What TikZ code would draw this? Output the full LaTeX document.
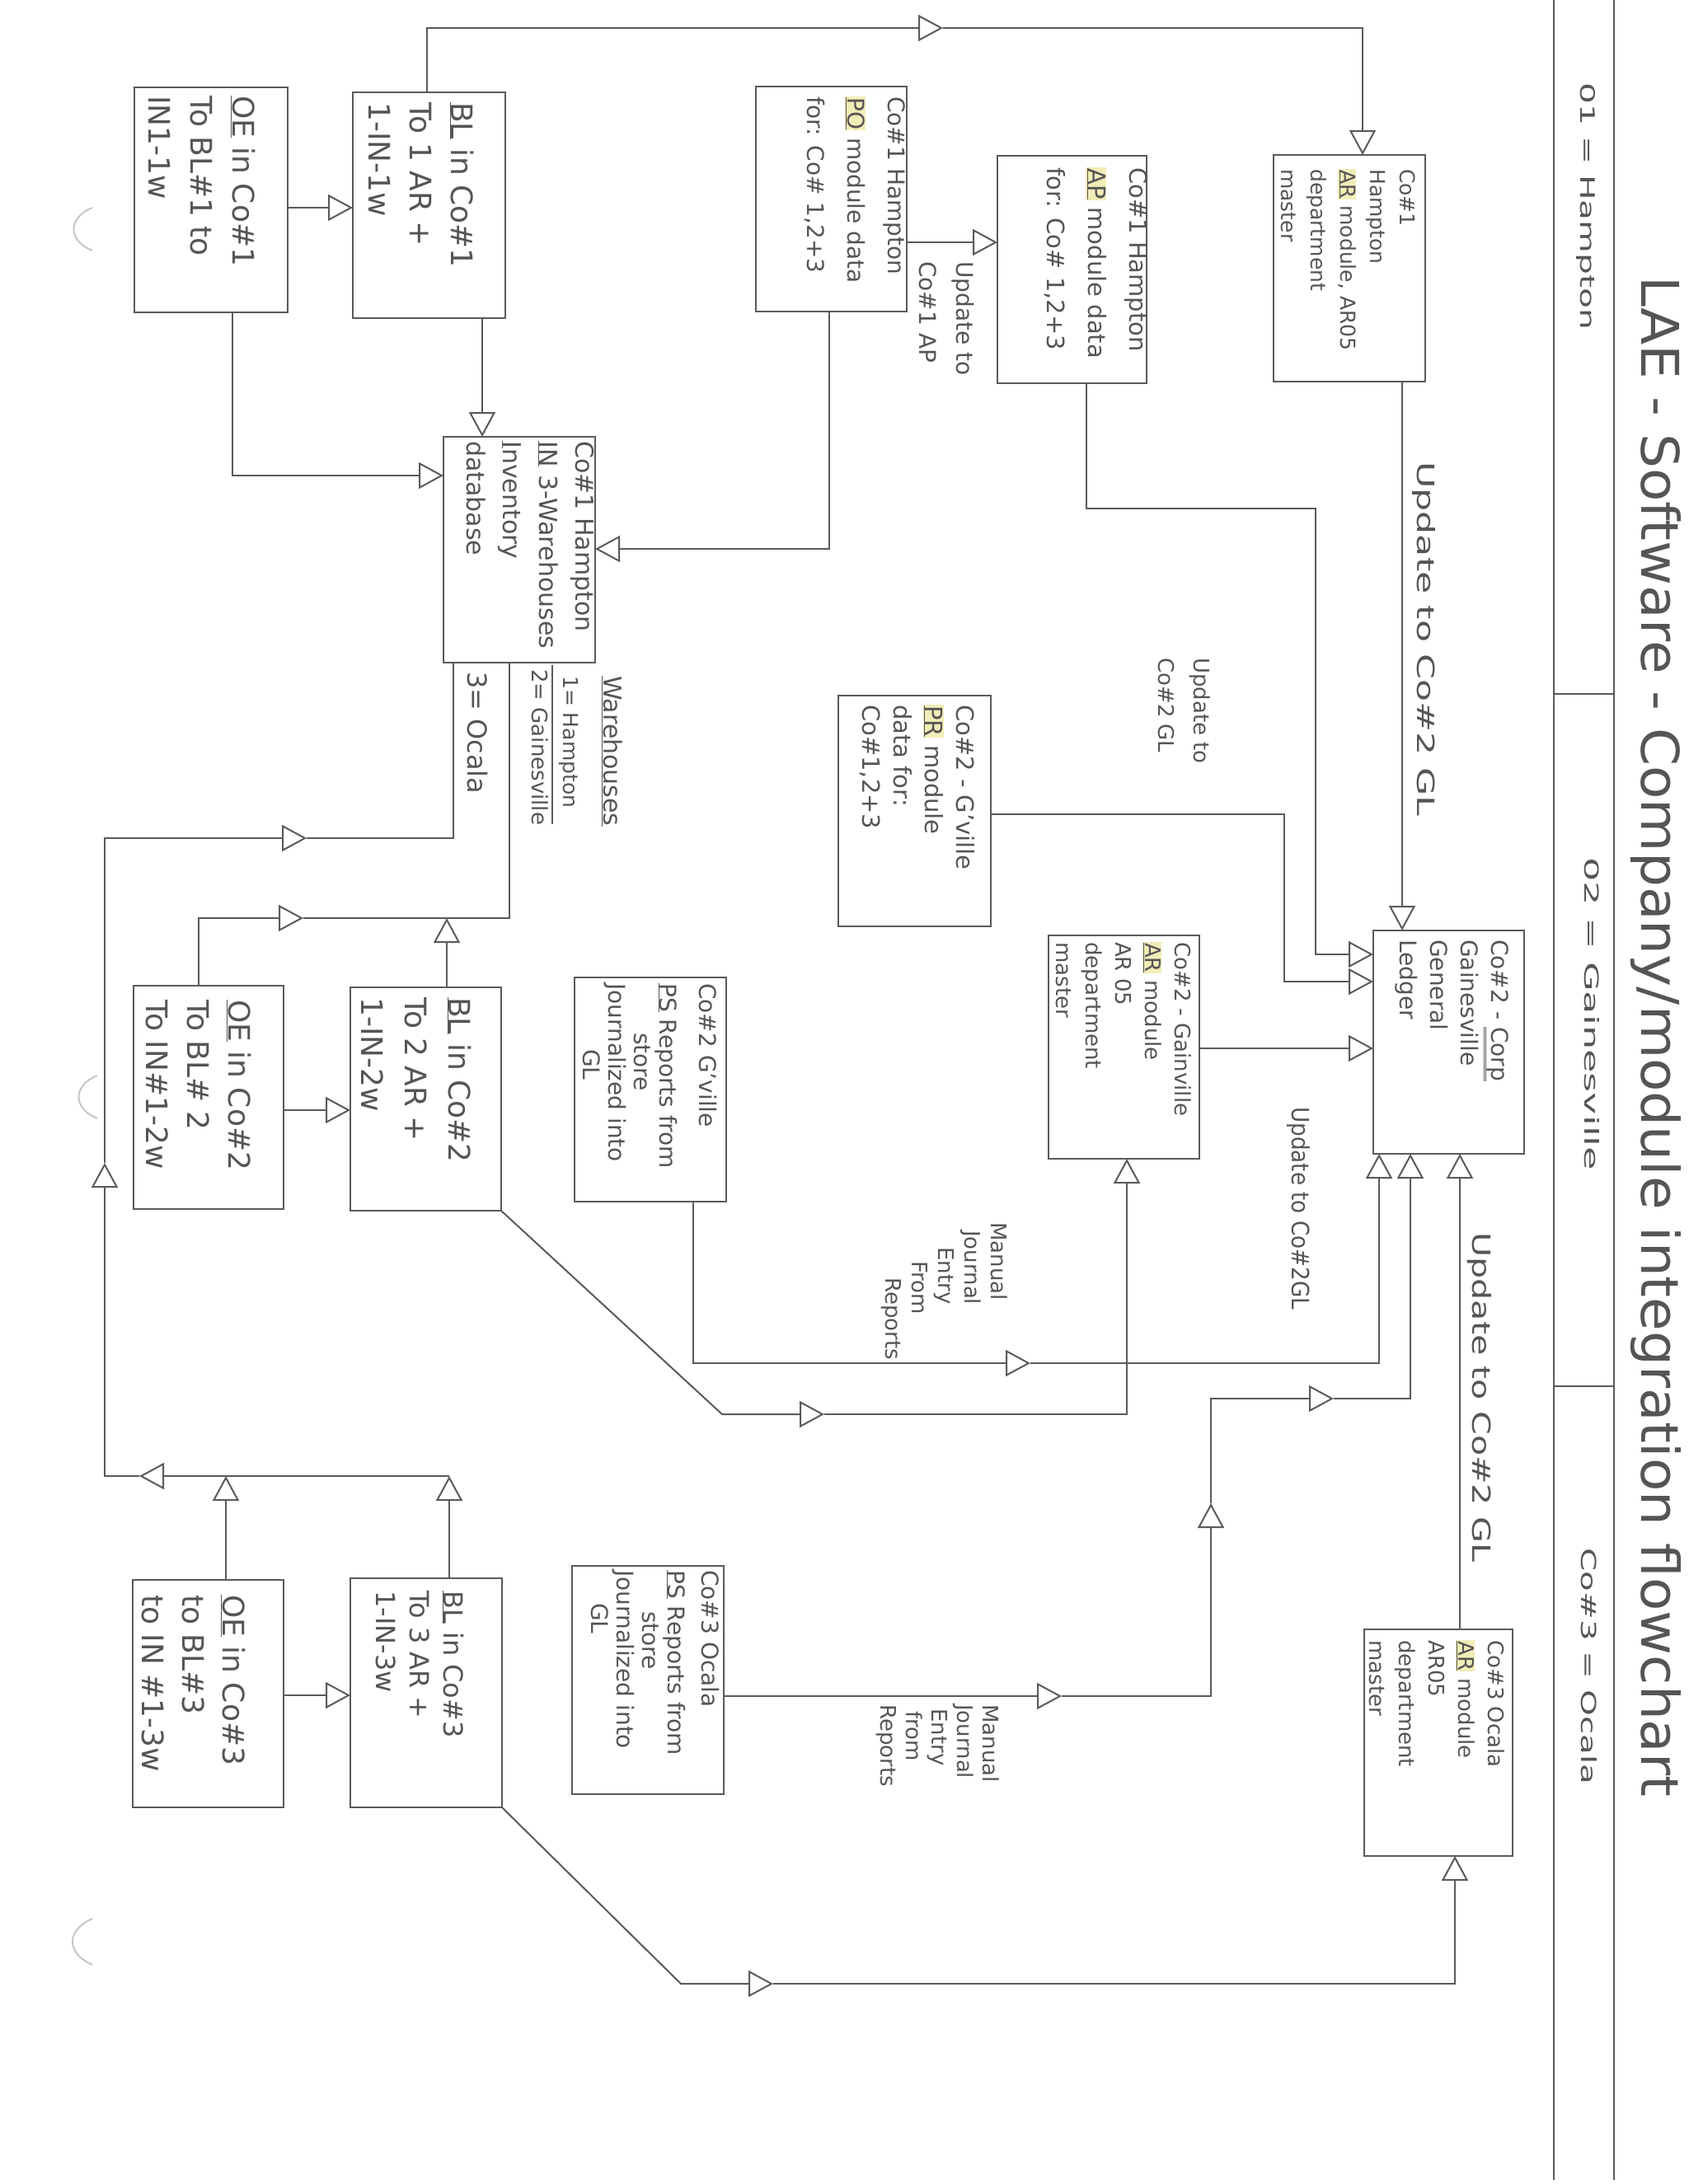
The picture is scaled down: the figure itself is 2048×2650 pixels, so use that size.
\documentclass[tikz,border=0pt]{standalone}
\usepackage{graphicx}
\usepackage{fontspec}
\setmainfont{DejaVu Sans}
\usetikzlibrary{arrows.meta,calc}
\definecolor{ink}{HTML}{5A5A5A}
\definecolor{txtc}{HTML}{555555}
\definecolor{hly}{HTML}{F1EDB8}
\newcommand\hl[1]{{\setlength{\fboxsep}{1pt}\colorbox{hly}{#1}}}
\newcommand\ul[1]{\underline{#1}}
\newcommand\fs[2]{\fontsize{#1}{#2}\selectfont}
\begin{document}
\begin{tikzpicture}[x=1pt,y=-1pt,
  box/.style={draw=ink,line width=2.2pt,inner sep=0pt,outer sep=0pt,rectangle},
  conn/.style={draw=ink,line width=2pt},
  tip/.style={-{Triangle[open,length=30pt,width=32pt,line width=2pt]}},
  txt/.style={rotate=-90,anchor=north west,align=left,inner sep=0pt,text=txtc},
  plain/.style={draw=ink,line width=2pt}
]
\useasboundingbox (0,0) rectangle (2048,2650);
\fill[white] (0,0) rectangle (2048,2650);

% ---------- frame on the right ----------
\draw[plain] (1885,0) -- (1885,2645);
\draw[plain] (1958,0) -- (1958,2645);
\draw[plain] (1885,842) -- (1958,842);
\draw[plain] (1885,1682) -- (1958,1682);

\node[txt] (title) at (2040,335) {\resizebox{1845pt}{48pt}{LAE - Software - Company/module integration flowchart}};
\node[txt] (s1) at (1936,100) {\resizebox{300pt}{18pt}{01 = Hampton}};
\node[txt] (s2) at (1941,1040) {\resizebox{380pt}{18pt}{02 = Gainesville}};
\node[txt] (s3) at (1938,1878) {\resizebox{287pt}{19pt}{Co\#3 = Ocala}};

% ---------- punch holes ----------
\draw[gray!45,line width=2pt] (112,252) .. controls (82,264) and (82,292) .. (112,304);
\draw[gray!45,line width=2pt] (118,1305) .. controls (88,1317) and (88,1345) .. (118,1357);
\draw[gray!45,line width=2pt] (112,2328) .. controls (80,2342) and (80,2370) .. (112,2384);

% ---------- boxes ----------
\node[box,minimum width=186pt,minimum height=273pt] (oe1) at (256,242.5) {};
\node[box,minimum width=185pt,minimum height=274pt] (bl1) at (520.5,249) {};
\node[box,minimum width=183pt,minimum height=273pt] (po) at (1008.5,241.5) {};
\node[box,minimum width=181pt,minimum height=276pt] (ap) at (1300.5,327) {};
\node[box,minimum width=184pt,minimum height=275pt] (ar1) at (1637,325.5) {};
\node[box,minimum width=184pt,minimum height=274pt] (inb) at (630,667) {};
\node[box,minimum width=185pt,minimum height=280pt] (pr) at (1109.5,984) {};
\node[box,minimum width=183pt,minimum height=271pt] (ar2) at (1363.5,1270.5) {};
\node[box,minimum width=183pt,minimum height=271pt] (gl) at (1757.5,1264.5) {};
\node[box,minimum width=180pt,minimum height=275pt] (ar3) at (1745,2114.5) {};
\node[box,minimum width=182pt,minimum height=271pt] (oe2) at (253,1331.5) {};
\node[box,minimum width=183pt,minimum height=271pt] (bl2) at (516.5,1333.5) {};
\node[box,minimum width=184pt,minimum height=272pt] (ps2) at (789,1322) {};
\node[box,minimum width=183pt,minimum height=276pt] (oe3) at (252.5,2055) {};
\node[box,minimum width=184pt,minimum height=278pt] (bl3) at (517,2054) {};
\node[box,minimum width=184pt,minimum height=277pt] (ps3) at (786,2038.5) {};

% ---------- box texts ----------
\node[txt,font=\fs{36}{51}] (toe1) at (310,116) {\ul{OE} in Co\#1\\To BL\#1 to\\IN1-1w};
\node[txt,font=\fs{36}{50}] (tbl1) at (575,124) {\ul{BL} in Co\#1\\To 1 AR +\\1-IN-1w};
\node[txt,font=\fs{28}{49}] (tpo) at (1098,117) {Co\#1 Hampton\\\hl{\ul{PO}} module data\\for: Co\# 1,2+3};
\node[txt,font=\fs{29}{50}] (tap) at (1392,203) {Co\#1 Hampton\\\hl{\ul{AP}} module data\\for: Co\# 1,2+3};
\node[txt,font=\fs{25}{36}] (tar1) at (1717,205) {Co\#1\\Hampton\\\hl{\ul{AR}} module, AR05\\department\\master};
\node[txt,font=\fs{30}{44}] (tin) at (721,535) {Co\#1 Hampton\\\ul{IN} 3-Warehouses\\\ul{I}nventory\\database};
\node[txt,font=\fs{29}{38}] (tpr) at (1183,855) {Co\#2 - G'ville\\\hl{\ul{PR}} module\\data for:\\Co\#1,2+3};
\node[txt,font=\fs{26}{36}] (tar2) at (1445,1143) {Co\#2 - Gainville\\\hl{\ul{AR}} module\\AR 05\\department\\master};
\node[txt,font=\fs{28}{37}] (tgl) at (1830,1140) {Co\#2 - \underline{\underline{Corp}}\\Gainesville\\General\\Ledger};
\node[txt,font=\fs{26}{36}] (tar3) at (1825,1990) {Co\#3 Ocala\\\hl{\ul{AR}} module\\AR05\\department\\master};
\node[txt,font=\fs{36}{50}] (toe2) at (305,1213) {\ul{OE} in Co\#2\\To BL\# 2\\To IN\#1-2w};
\node[txt,font=\fs{36}{53}] (tbl2) at (572,1210) {\ul{BL} in Co\#2\\To 2 AR +\\1-IN-2w};
\node[txt,font=\fs{28}{31}] (tps2) at (870,1193) {Co\#2 G'ville\\[17pt]\ul{PS} Reports from\\\hspace*{60pt}store\\Journalized into\\\hspace*{80pt}GL};
\node[txt,font=\fs{36}{49}] (toe3) at (298,1935) {\ul{OE} in Co\#3\\to BL\#3\\to IN \#1-3w};
\node[txt,font=\fs{32}{41}] (tbl3) at (563,1930) {\ul{BL} in Co\#3\\To 3 AR +\\1-IN-3w};
\node[txt,font=\fs{28}{31}] (tps3) at (873,1905) {Co\#3 Ocala\\[10pt]\ul{PS} Reports from\\\hspace*{50pt}store\\Journalized into\\\hspace*{40pt}GL};

% ---------- warehouses legend ----------
\node[txt,font=\fs{30}{30}] (w0) at (755,820) {\ul{Warehouses}};
\node[txt,font=\fs{25}{25}] (w1) at (702,820) {1= Hampton};
\node[txt,font=\fs{26}{26}] (w2) at (665,812) {2= Gainesville};
\node[txt,font=\fs{32}{32}] (w3) at (592,815) {3= Ocala};
\draw[plain] (670,807) -- (670,1000);

% ---------- labels ----------
\node[txt,font=\fs{28}{45}] (lua) at (1182,317) {Update to\\Co\#1 AP};
\node[txt] (lu1) at (1742,560) {\resizebox{430pt}{22pt}{\fs{24}{28}Update to Co\#2 GL}};
\node[txt,font=\fs{26}{43}] (lu2) at (1468,798) {Update to\\Co\#2 GL};
\node[txt] (lu3) at (1590,1343) {\resizebox{246pt}{22pt}{\fs{24}{28}Update to Co\#2GL}};
\node[txt] (lu4) at (1810,1495) {\resizebox{400pt}{23pt}{\fs{24}{28}Update to Co\#2 GL}};
\node[txt,font=\fs{26}{32}] (lm2) at (1222,1483) {Manual\\\hspace*{10pt}Journal\\\hspace*{30pt}Entry\\\hspace*{47pt}From\\\hspace*{67pt}Reports};
\node[txt,font=\fs{26}{31}] (lm3) at (1212,2068) {Manual\\Journal\\\hspace*{5pt}Entry\\\hspace*{8pt}from\\Reports};

% ---------- connectors ----------
\draw[conn,tip] (oe1.east |- 0,252) -- (bl1.west |- 0,252);
\coordinate (tA) at (1144,34);
\draw[conn,tip] (bl1.north -| 518,0) -- (518,34) -- (tA);
\draw[conn,tip] (tA) -- (1653,34) -- (ar1.north -| 1653,0);
\draw[conn,tip] (oe1.south -| 282,0) |- (inb.west |- 0,577);
\draw[conn,tip] (bl1.south -| 585,0) -- (inb.north -| 585,0);
\draw[conn,tip] (po.east |- 0,294) -- (ap.west |- 0,294);
\draw[conn,tip] (po.south -| 1006,0) |- (inb.east |- 0,666);
\draw[conn,tip] (ar1.south -| 1701,0) -- (gl.north -| 1701,0);
\draw[conn,tip] (ap.south -| 1318,0) |- (1596,617) |- (gl.west |- 0,1158);
\draw[conn,tip] (pr.east |- 0,988) -| (1558,1191) -- (gl.west |- 0,1191);
\draw[conn,tip] (ar2.east |- 0,1272) -- (gl.west |- 0,1272);

\coordinate (pA) at (1250,1654);
\draw[conn,tip] (ps2.south -| 841,0) |- (pA);
\draw[conn,tip] (pA) -| (gl.south -| 1673,0);

\coordinate (bA) at (1000,1716);
\draw[conn,tip] (bl2.south east) -- (876,1716) -- (bA);
\draw[conn,tip] (bA) -| (ar2.south -| 1367,0);

\coordinate (qA) at (1288,2058);
\coordinate (qB) at (1469,1824);
\coordinate (qC) at (1618,1697);
\draw[conn,tip] (ps3.east |- 0,2058) -- (qA);
\draw[conn,tip] (qA) -| (qB);
\draw[conn,tip] (qB) |- (qC);
\draw[conn,tip] (qC) -| (gl.south -| 1711,0);

\draw[conn,tip] (ar3.north -| 1771,0) -- (gl.south -| 1771,0);

\coordinate (cA) at (938,2407);
\draw[conn,tip] (bl3.south east) -- (826,2407) -- (cA);
\draw[conn,tip] (cA) -| (ar3.south -| 1765,0);

\draw[conn,tip] (oe2.east |- 0,1347) -- (bl2.west |- 0,1347);
\draw[conn,tip] (oe3.east |- 0,2057) -- (bl3.west |- 0,2057);

\coordinate (dA) at (368,1114);
\draw[conn,tip] (oe2.north -| 241,0) |- (dA);
\draw[conn] (dA) -| (inb.south -| 618,0);
\draw[conn,tip] (bl2.north -| 542,0) -- (542,1114);

\coordinate (eA) at (545,1791);
\coordinate (eB) at (169,1791);
\coordinate (eC) at (127,1411);
\coordinate (eD) at (372,1017);
\draw[conn,tip] (oe3.north -| 274,0) -- (274,1791);
\draw[conn,tip] (bl3.north -| 545,0) -- (eA);
\draw[conn,tip] (eA) -- (eB);
\draw[conn,tip] (eB) -| (eC);
\draw[conn,tip] (eC) |- (eD);
\draw[conn] (eD) -| (inb.south -| 550,0);
\end{tikzpicture}
\end{document}
